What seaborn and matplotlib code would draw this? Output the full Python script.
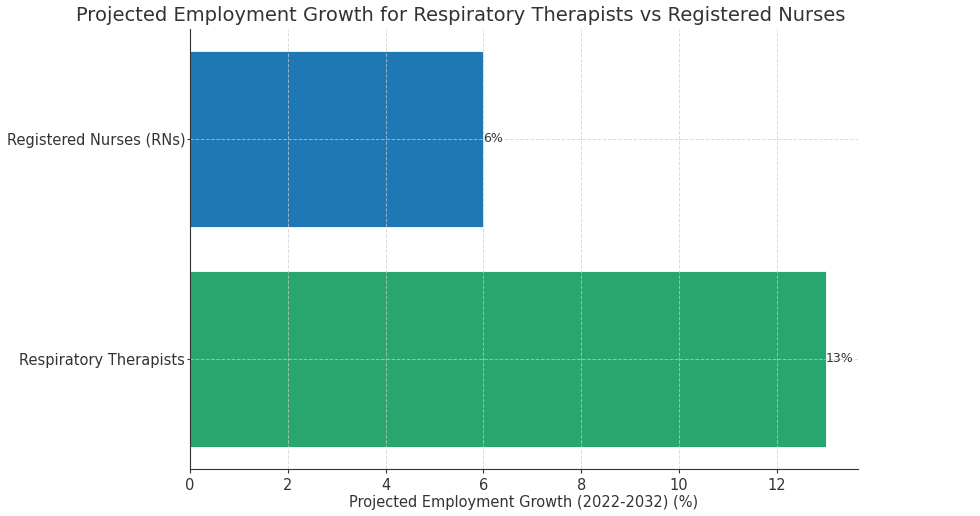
import pandas as pd
import matplotlib
matplotlib.use("Agg")
import matplotlib.pyplot as plt
import seaborn as sns

occupations = ["Registered Nurses (RNs)", "Respiratory Therapists"]
growth = [6, 13]
bar_colors = ["#1f77b4", "#29a66e"]

df = pd.DataFrame({"occupation": occupations, "growth": growth})

sns.set_style("white")
plt.rcParams["font.family"] = ["DejaVu Sans"]
plt.rcParams["text.color"] = "#333333"
plt.rcParams["axes.labelcolor"] = "#333333"
plt.rcParams["xtick.color"] = "#333333"
plt.rcParams["ytick.color"] = "#333333"

fig, ax = plt.subplots(figsize=(9.8, 5.16), dpi=100)
sns.barplot(data=df, x="growth", y="occupation", hue="occupation",
            palette=bar_colors, orient="h", width=0.8, legend=False,
            edgecolor="white", linewidth=0.6, saturation=1, ax=ax)

for patch, val in zip(ax.patches, growth):
    ax.text(patch.get_width(), patch.get_y() + patch.get_height() / 2,
            f"{val}%", va="center", ha="left", fontsize=9)

ax.set_axisbelow(False)
ax.grid(True, linestyle="--", color="#cccccc", linewidth=0.7, alpha=0.7)
ax.set_xlim(0, 13.65)
sns.despine(ax=ax)
for side in ["left", "bottom"]:
    ax.spines[side].set_color("#333333")
    ax.spines[side].set_zorder(5)
ax.tick_params(axis="x", labelsize=10.5, length=3, bottom=True)
ax.tick_params(axis="y", labelsize=10.5, length=2, pad=1.5, left=True)

ax.set_xlabel("Projected Employment Growth (2022-2032) (%)", fontsize=10.5, labelpad=2)
ax.set_ylabel("")
ax.set_title("Projected Employment Growth for Respiratory Therapists vs Registered Nurses",
             fontsize=14, x=0.405)

fig.subplots_adjust(left=0.194, right=0.875, top=0.944, bottom=0.092)
fig.savefig("out.png", dpi=100)
